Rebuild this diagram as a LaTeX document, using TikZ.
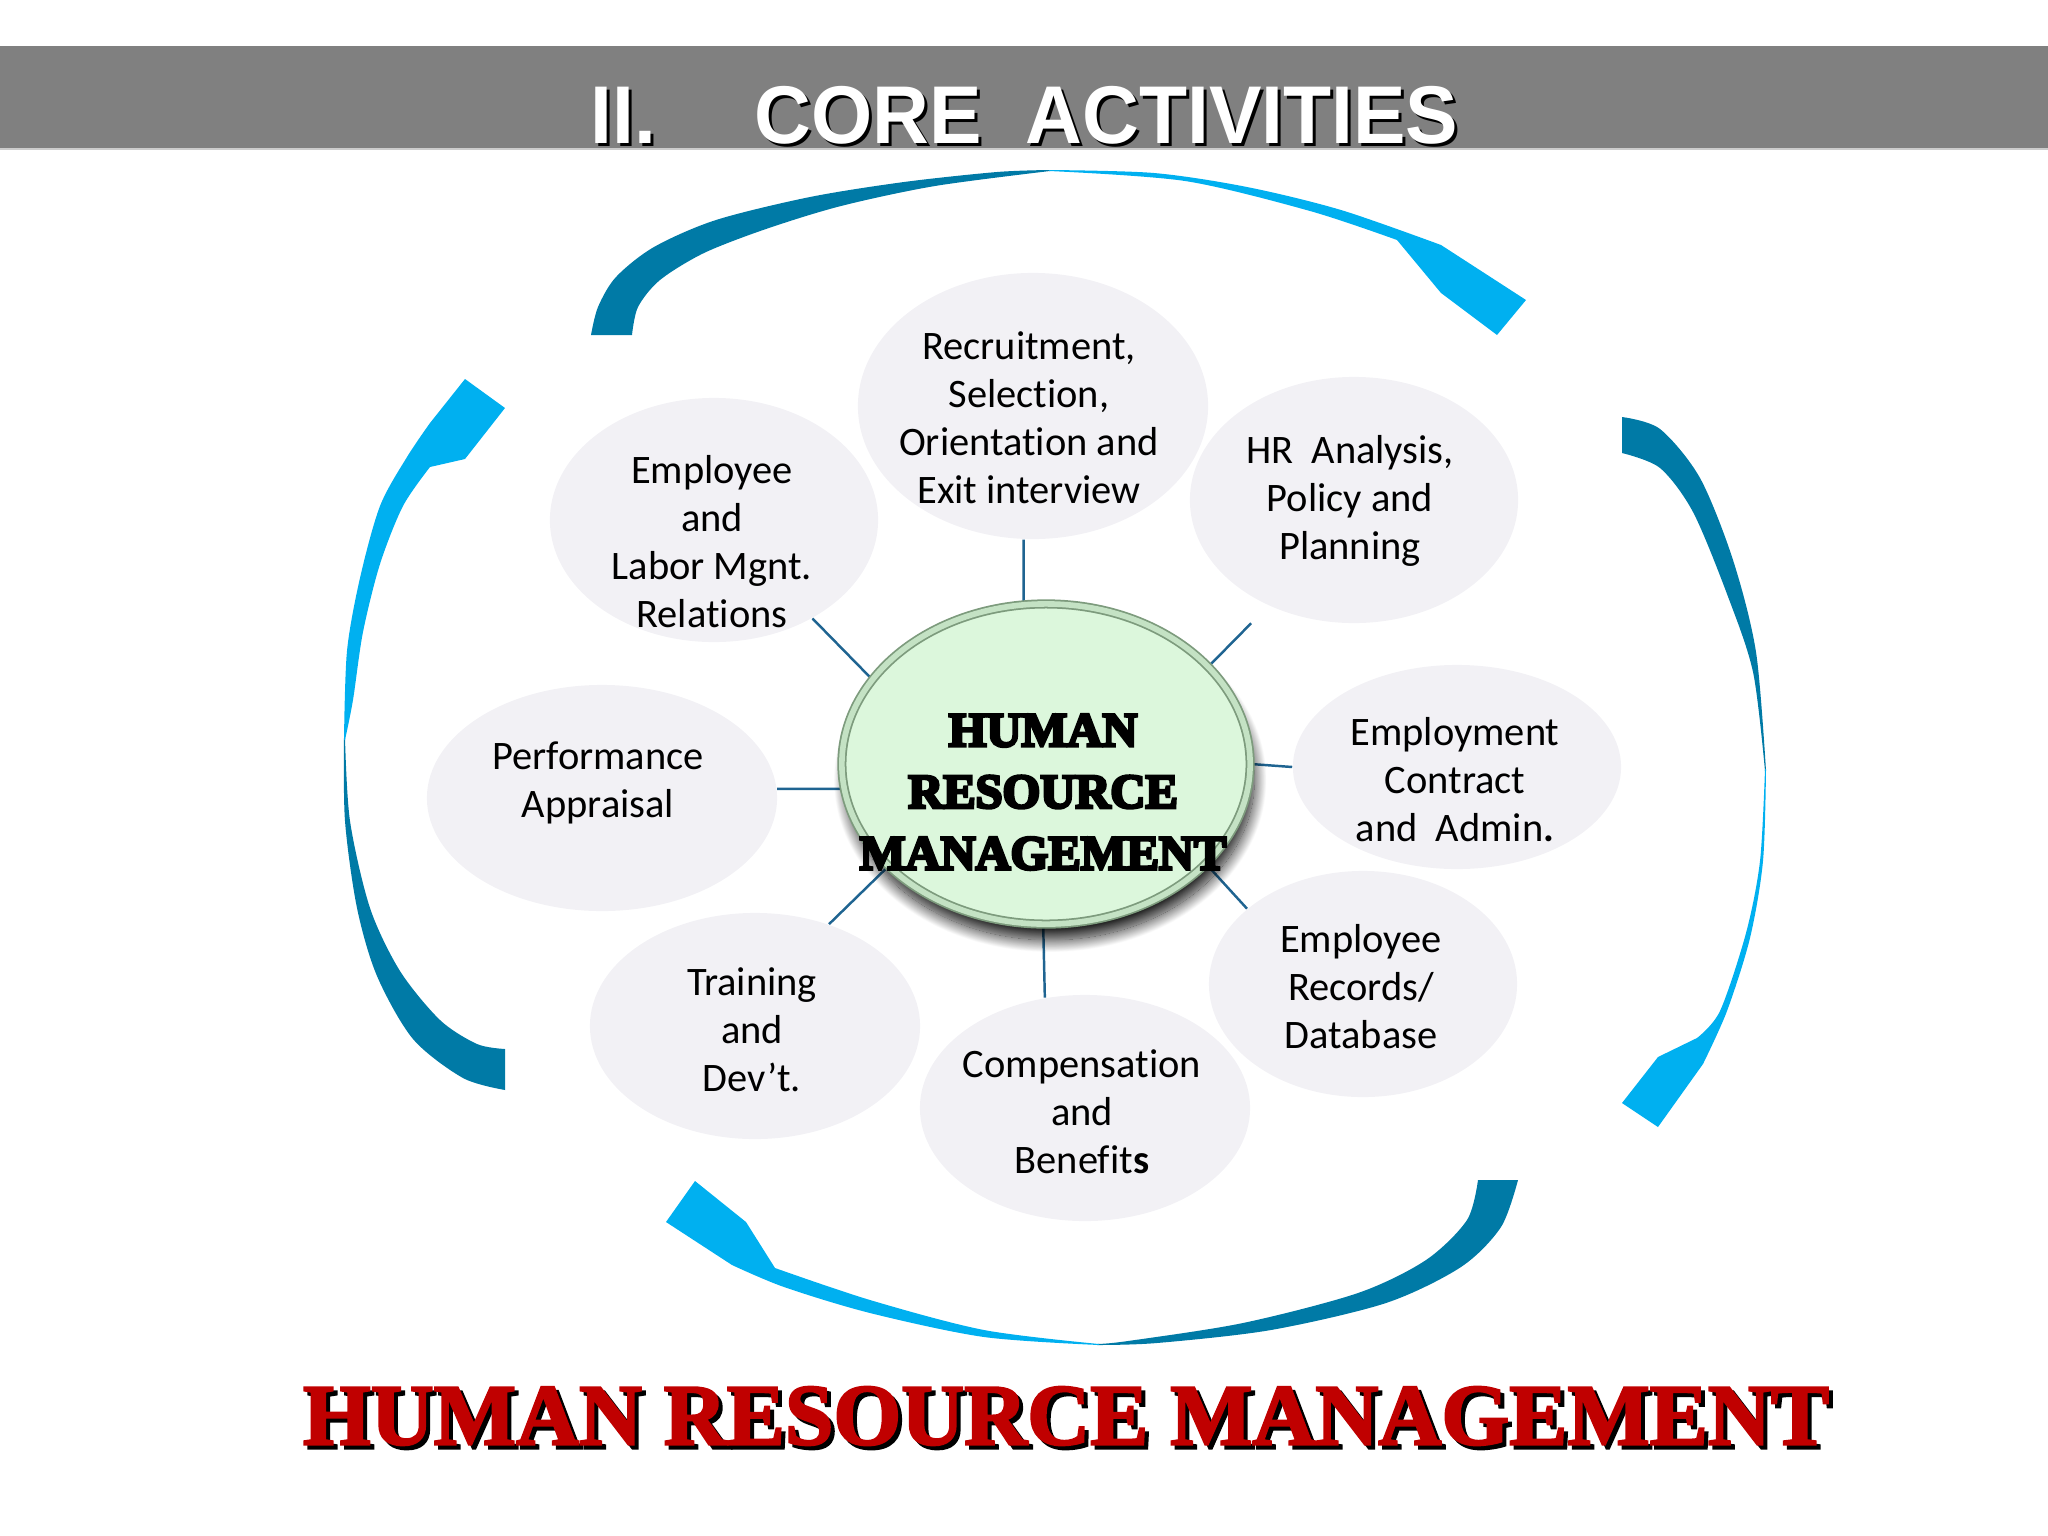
\documentclass[tikz,border=0pt]{standalone}
\usepackage{fontspec}
\setmainfont{Carlito}[Ligatures=NoCommon]
\newfontfamily\titlefont{Liberation Sans}
\newfontfamily\hrmfont{Liberation Serif}[BoldFeatures={FakeBold=6}]
\newfontfamily\hrmbottomfont{Liberation Serif}[BoldFeatures={FakeBold=2.5}]
\usetikzlibrary{shapes.geometric,shadows.blur,backgrounds}
\definecolor{bargray}{RGB}{128,128,128}
\definecolor{satgray}{RGB}{242,241,245}
\definecolor{arcdark}{RGB}{0,122,166}
\definecolor{arclight}{RGB}{0,176,240}
\definecolor{spokeblue}{RGB}{31,100,145}
\definecolor{hubfill}{RGB}{220,247,220}
\definecolor{hubrim}{RGB}{125,155,125}
\definecolor{hubband}{RGB}{196,226,196}
\definecolor{hrmred}{RGB}{192,0,0}
\tikzset{
    sat/.style={ellipse, fill=satgray, inner sep=0pt},
    sattext/.style={align=center, inner sep=0pt, font=\fontsize{11.5}{13.65}\selectfont},
    spoke/.style={draw=spokeblue, line width=0.7pt},
    hub/.style={ellipse, inner sep=0pt, minimum width=4.08cm, minimum height=3.2cm,
        fill=hubfill, draw=hubrim, double=hubband, double distance=1.6pt, line width=0.5pt,
        blur shadow={shadow xshift=1.2pt, shadow yshift=-4.5pt, shadow blur radius=3.5pt,
            shadow blur steps=30, shadow opacity=90}},
    hubtext/.style={align=center, inner sep=0pt, font=\hrmfont\bfseries\fontsize{13.8}{17.5}\selectfont},
    titletext/.style={anchor=west, inner sep=0pt, font=\titlefont\bfseries\fontsize{23.3}{28}\selectfont},
    bottomtext/.style={inner sep=0pt, font=\hrmbottomfont\bfseries\fontsize{24.8}{30}\selectfont},
    darkarc/.style={fill=arcdark},
    lightarc/.style={fill=arclight}
}
\begin{document}
\begin{tikzpicture}[x=0.01cm, y=-0.01cm]
            \useasboundingbox (0,0) rectangle (2048,1536);

            \fill[bargray] (0,46) rectangle (2048,148);
            \draw[gray!40, line width=0.6pt] (0,149) -- (2048,149);
            \node[titletext, black] (secshadow) at (593,118) {\scalebox{0.96}[1]{II.}};
            \node[titletext, white] (sec) at (590,115) {\scalebox{0.96}[1]{II.}};
            \node[titletext, black] (titleshadow) at (757,118) {\scalebox{0.96}[1]{CORE\ \ ACTIVITIES}};
            \node[titletext, white] (title) at (754,115) {\scalebox{0.96}[1]{CORE\ \ ACTIVITIES}};

            \fill[darkarc] plot[smooth] coordinates {(591,335) (598,307) (616,277) (654,247) (716,220) (810,197) (904,182) (997,172) (1050,170)}
                -- plot[smooth] coordinates {(1050,171) (935,186) (841,206) (766,229) (704,253) (660,280) (638,307) (632,335)} -- cycle;
            \fill[lightarc] plot[smooth] coordinates {(1049,170) (1154,173) (1247,187) (1341,210) (1441,245)}
                -- (1526,300) -- (1497,335) -- (1441,293)
                -- plot[smooth] coordinates {(1397,240) (1310,211) (1185,181) (1049,171)} -- cycle;

            \fill[darkarc] plot[smooth] coordinates {(1622,417) (1660,429) (1700,478) (1733,560) (1756,652) (1766,771)}
                -- plot[smooth] coordinates {(1765,771) (1753,672) (1727,594) (1693,512) (1660,468) (1622,453)} -- cycle;
            \fill[lightarc] plot[smooth] coordinates {(1766,769) (1763,861) (1750,938) (1727,1011) (1703,1064)}
                -- (1658,1127) -- (1622,1103) -- (1658,1057)
                -- plot[smooth] coordinates {(1697,1038) (1720,1011) (1746,933) (1760,861) (1765,769)} -- cycle;

            \fill[darkarc] plot[smooth] coordinates {(1518,1180) (1501,1227) (1461,1267) (1386,1303) (1271,1330) (1157,1343) (1097,1345)}
                -- plot[smooth] coordinates {(1097,1344) (1128,1341) (1243,1323) (1358,1293) (1426,1260) (1467,1220) (1478,1180)} -- cycle;
            \fill[lightarc] plot[smooth] coordinates {(1099,1345) (984,1337) (870,1313) (784,1287) (732,1265)}
                -- (666,1222) -- (695,1181) -- (746,1222)
                -- plot[smooth] coordinates {(775,1268) (870,1300) (984,1330) (1099,1344)} -- cycle;

            \fill[darkarc] plot[smooth] coordinates {(344,738) (345,821) (357,908) (377,976) (413,1039) (463,1078) (505,1090)}
                -- plot[smooth] coordinates {(505,1049) (477,1044) (440,1020) (400,971) (370,908) (350,821) (345,738)} -- cycle;
            \fill[lightarc] plot[smooth] coordinates {(344,740) (347,651) (360,578) (380,506) (407,457) (430,423)}
                -- (465,379) -- (505,408) -- (465,459)
                -- plot[smooth] coordinates {(430,467) (403,506) (380,564) (363,632) (353,700) (345,740)} -- cycle;

            \node[sat, minimum width=3.5cm, minimum height=2.66cm] (rec) at (1033,406) {};
            \node[sat, minimum width=3.28cm, minimum height=2.46cm] (hr) at (1354,500) {};
            \node[sat, minimum width=3.28cm, minimum height=2.44cm] (emp) at (714,520) {};
            \node[sat, minimum width=3.5cm, minimum height=2.26cm] (perf) at (602,798) {};
            \node[sat, minimum width=3.28cm, minimum height=2.04cm] (cont) at (1457,767) {};
            \node[sat, minimum width=3.3cm, minimum height=2.26cm] (train) at (755,1026) {};
            \node[sat, minimum width=3.08cm, minimum height=2.26cm] (recs) at (1363,984) {};
            \node[sat, minimum width=3.3cm, minimum height=2.26cm] (comp) at (1085,1108) {};

            \node[hub] (hub) at (1046,764) {};

            \begin{pgfonlayer}{background}
                \draw[spoke] (emp.-45) -- (hub.154);
                \draw[spoke, shorten >=7pt] (hub.31) -- (hr.231);
                \draw[spoke] (rec.-94) -- (hub.98);
                \draw[spoke] (perf.3) -- (hub.187);
                \draw[spoke] (hub.east) -- (cont.west);
                \draw[spoke] (train.54) -- (hub.213);
                \draw[spoke] (hub.-32) -- (recs.147);
                \draw[spoke] (comp.110) -- (hub.-91);
            \end{pgfonlayer}

            \node[sattext] (rectext) at (1029,418) {Recruitment,\\Selection,\\Orientation and\\Exit interview};
            \node[sattext] (hrtext) at (1350,501) {HR\ \ Analysis,\\Policy and\\Planning};
            \node[sattext] (emptext) at (712,542) {Employee\\and\\Labor Mgnt.\\Relations};
            \node[sattext] (perftext) at (598,783) {Performance\\Appraisal};
            \node[sattext] (conttext) at (1455,780) {Employment\\Contract\\and\ \ Admin{\bfseries .}};
            \node[sattext] (traintext) at (752,1030) {Training\\and\\Dev’t.};
            \node[sattext] (recstext) at (1361,987) {Employee\\Records/\\Database};
            \node[sattext] (comptext) at (1082,1112) {Compensation\\and\\Benefit{\bfseries s}};

            \node[hubtext] (hubtext) at (1043,792) {HUMAN\\RESOURCE\\MANAGEMENT};

            \node[bottomtext, black] (hrmshadow) at (1070,1420) {HUMAN RESOURCE MANAGEMENT};
            \node[bottomtext, hrmred] (hrm) at (1066,1416) {HUMAN RESOURCE MANAGEMENT};
\end{tikzpicture}
\end{document}
